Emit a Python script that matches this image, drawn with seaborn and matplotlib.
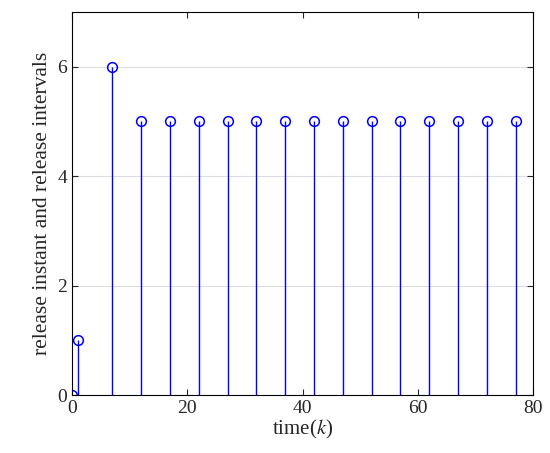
import matplotlib
matplotlib.use("Agg")
import matplotlib.pyplot as plt
import seaborn as sns

times = [0, 1, 7, 12, 17, 22, 27, 32, 37, 42, 47, 52, 57, 62, 67, 72, 77]
values = [0, 1, 6, 5, 5, 5, 5, 5, 5, 5, 5, 5, 5, 5, 5, 5, 5]

sns.set_style("ticks")
plt.rcParams['font.family'] = ['Liberation Serif', 'DejaVu Serif']
plt.rcParams['mathtext.fontset'] = 'stix'

fig = plt.figure(figsize=(5.5, 4.53), dpi=100)
ax = fig.add_axes([72/550, 58/453, 461/550, 383/453])
ml, sl, bl = ax.stem(times, values, basefmt=" ")
plt.setp(sl, color="blue", linewidth=1)
plt.setp(ml, markerfacecolor="none", markeredgecolor="blue", markersize=7, markeredgewidth=1.1)
ax.set_xlim(0, 80)
ax.set_ylim(0, 7)
ax.set_xticks([0, 20, 40, 60, 80])
ax.set_yticks([0, 2, 4, 6])
ax.grid(axis="y", color="#dddddd", linewidth=0.8)
ax.set_axisbelow(True)
for s in ax.spines.values():
    s.set_color("black"); s.set_linewidth(0.8)
ax.tick_params(direction="in", length=4, labelsize=14, top=True, right=True)
ax.set_xlabel("time($k$)", fontsize=15, labelpad=1)
ax.set_ylabel("release instant and release intervals", fontsize=15.5, labelpad=4)
fig.savefig("out.png", dpi=100)
